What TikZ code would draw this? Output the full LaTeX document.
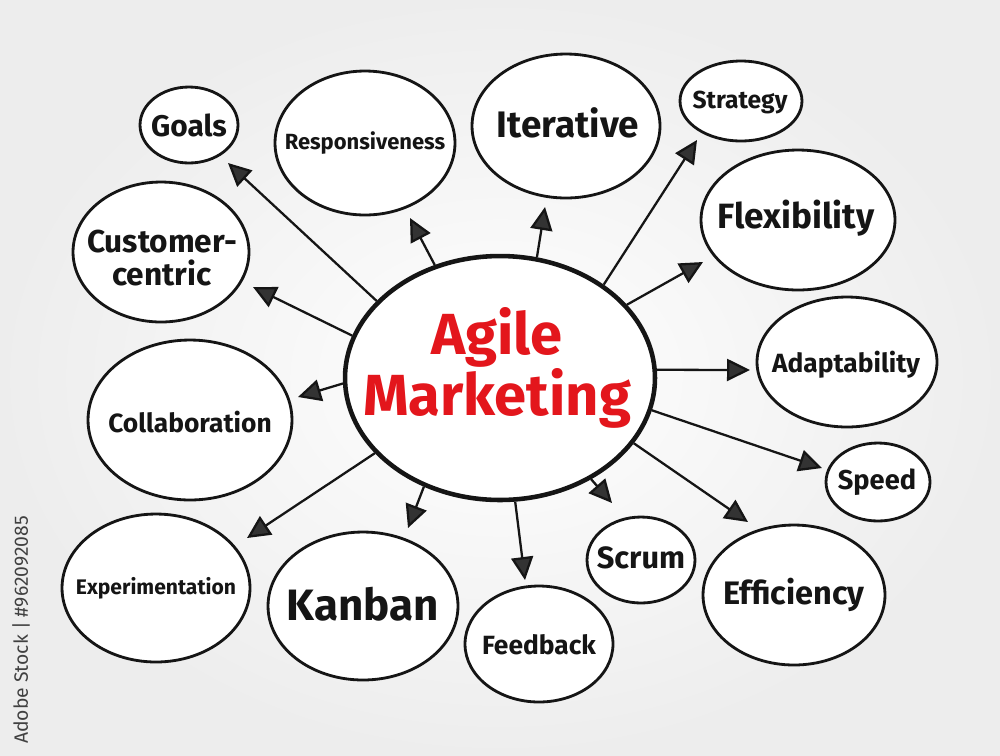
\documentclass[tikz,border=0pt]{standalone}
\usepackage{fontspec}
\setmainfont{Fira Sans}
\usetikzlibrary{shapes.geometric,arrows.meta}
\definecolor{agilered}{HTML}{E3161C}
\definecolor{ink}{HTML}{151515}
\tikzset{
  bubble/.style={ellipse, draw=ink, fill=white, line width=1.6pt, inner sep=0pt},
  word/.style={text=ink, align=center, inner sep=0pt, font=\bfseries\fontsize{#1}{#1}\selectfont},
  spoke/.style={draw=ink, line width=1.3pt, -{Triangle[length=0.46cm,width=0.44cm,fill=black!80]}},
}
\begin{document}
\begin{tikzpicture}[x=0.02cm,y=-0.02cm]
	\useasboundingbox (0,0) rectangle (1000,755);
	\fill[inner color=white, outer color=black!7] (0,0) rectangle (1000,755);
	\node[rotate=90, text=black!75, inner sep=0pt, font=\fontsize{11}{11}\selectfont] (stock) at (21,630) {Adobe Stock | \#962092085};

	\node[bubble, line width=2.6pt, minimum width=6.2cm, minimum height=4.88cm] (hub) at (500,378) {};
	\node[word=33, text=agilered, font=\bfseries\fontsize{33}{34}\selectfont] (hubT) at (497,368) {Agile\\Marketing};

	\node[bubble, minimum width=1.96cm, minimum height=1.52cm] (goals) at (189,125) {};
	\node[word=17] (goalsT) at (goals) {Goals};
	\node[bubble, minimum width=3.6cm, minimum height=2.88cm] (resp) at (365,143) {};
	\node[word=12.5] (respT) at (resp) {Responsiveness};
	\node[bubble, minimum width=3.76cm, minimum height=2.88cm] (iter) at (566,126) {};
	\node[word=21] (iterT) at (568,123) {Iterative};
	\node[bubble, minimum width=2.44cm, minimum height=1.6cm] (strat) at (741,101) {};
	\node[word=14] (stratT) at (740,102) {Strategy};
	\node[bubble, minimum width=3.88cm, minimum height=2.8cm] (flex) at (798,220) {};
	\node[word=20] (flexT) at (796,218) {Flexibility};
	\node[bubble, minimum width=3.52cm, minimum height=2.8cm] (cust) at (161,252) {};
	\node[word=18, font=\bfseries\fontsize{18}{19}\selectfont] (custT) at (162,258) {Customer-\\centric};
	\node[bubble, minimum width=3.6cm, minimum height=2.6cm] (adapt) at (847,362) {};
	\node[word=15] (adaptT) at (846,365) {Adaptability};
	\node[bubble, minimum width=4.08cm, minimum height=3.2cm] (collab) at (190,420) {};
	\node[word=15] (collabT) at (190,422) {Collaboration};
	\node[bubble, minimum width=2.08cm, minimum height=1.56cm] (speed) at (878,482) {};
	\node[word=15.5] (speedT) at (877,482) {Speed};
	\node[bubble, minimum width=3.76cm, minimum height=2.96cm] (exper) at (156,588) {};
	\node[word=12] (experT) at (exper) {Experimentation};
	\node[bubble, minimum width=3.8cm, minimum height=2.96cm] (kanban) at (363,606) {};
	\node[word=25] (kanbanT) at (363,604) {Kanban};
	\node[bubble, minimum width=2.96cm, minimum height=2.32cm] (feed) at (539,644) {};
	\node[word=15] (feedT) at (539,645) {Feedback};
	\node[bubble, minimum width=2.16cm, minimum height=1.72cm] (scrum) at (641,560) {};
	\node[word=17.5] (scrumT) at (641,558) {Scrum};
	\node[bubble, minimum width=3.64cm, minimum height=2.8cm] (effic) at (794,595) {};
	\node[word=18.5] (efficT) at (794,595) {Efficiency};

	\coordinate (goalsTip) at (228,163);
	\coordinate (custTip) at (253,287);
	\coordinate (collabTip) at (298,397);
	\coordinate (experTip) at (247,538);
	\coordinate (kanbanTip) at (408,528);
	\coordinate (feedTip) at (525,580);
	\coordinate (scrumTip) at (612,503);
	\coordinate (efficTip) at (748,522);
	\coordinate (speedTip) at (822,468);
	\coordinate (adaptTip) at (750,370);
	\coordinate (flexTip) at (703,262);
	\coordinate (stratTip) at (697,140);
	\coordinate (iterTip) at (545,207);
	\coordinate (respTip) at (410,218);

	\draw[spoke] (hub.148) -- (goalsTip);
	\draw[spoke] (hub.164) -- (custTip);
	\draw[spoke] (hub.182.6) -- (collabTip);
	\draw[spoke] (hub.211.6) -- (experTip);
	\draw[spoke] (hub.235) -- (kanbanTip);
	\draw[spoke] (hub.277.7) -- (feedTip);
	\draw[spoke] (hub.312) -- (scrumTip);
	\draw[spoke] (hub.334) -- (efficTip);
	\draw[spoke] (hub.348) -- (speedTip);
	\draw[spoke] (hub.3) -- (adaptTip);
	\draw[spoke] (hub.30) -- (flexTip);
	\draw[spoke] (hub.42) -- (stratTip);
	\draw[spoke] (hub.73) -- (iterTip);
	\draw[spoke] (hub.120.6) -- (respTip);
\end{tikzpicture}
\end{document}
